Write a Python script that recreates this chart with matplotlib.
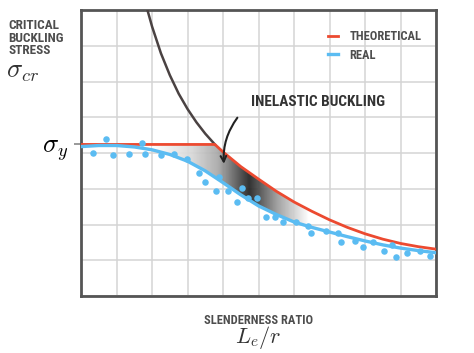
import matplotlib.pyplot as plt
import numpy as np
from matplotlib.colors import LinearSegmentedColormap
from matplotlib.patches import Polygon

plt.rcParams['mathtext.fontset'] = 'cm'
cond = ['Liberation Sans Narrow', 'Roboto Condensed', 'Roboto', 'DejaVu Sans']

# yield stress level
sigma_y = 4.24

# theoretical curve (flat plateau, then elastic branch)
x_theo = [0, 3.77, 4.0, 4.5, 5.0, 5.5, 6.0, 6.5, 7.0, 7.5, 8.0, 8.5, 9.0, 9.5, 10.0]
y_theo = [4.24, 4.24, 4.03, 3.62, 3.27, 2.93, 2.63, 2.37, 2.13, 1.92, 1.74, 1.59, 1.47, 1.38, 1.31]

# real (measured) trend
x_real = [0, 0.5, 1.0, 1.5, 2.0, 2.5, 3.0, 3.5, 4.0, 4.5, 5.0, 5.5, 6.0, 6.5, 7.0, 7.5, 8.0, 8.5, 9.0, 9.5, 10.0]
y_real = [4.18, 4.21, 4.21, 4.17, 4.09, 3.96, 3.77, 3.50, 3.17, 2.83, 2.52, 2.28, 2.07, 1.92, 1.79, 1.66, 1.54, 1.43, 1.34, 1.27, 1.21]

# euler branch above the plateau
x_euler = [1.87, 2.0, 2.25, 2.5, 2.75, 3.0, 3.25, 3.5, 3.77]
y_euler = [8.0, 7.54, 6.79, 6.18, 5.66, 5.23, 4.86, 4.54, 4.24]

# test points
pts_x = [0.33, 0.70, 0.89, 1.36, 1.73, 1.79, 2.25, 2.62, 2.98, 3.32, 3.48, 3.80, 3.89, 4.13, 4.38,
         4.53, 4.71, 4.95, 5.20, 5.45, 5.68, 6.05, 6.39, 6.49, 6.89, 7.25, 7.32, 7.73, 7.95, 8.21,
         8.54, 8.77, 8.86, 9.17, 9.55, 9.82]
pts_y = [4.00, 4.40, 3.94, 3.98, 4.29, 3.97, 3.94, 3.97, 3.84, 3.45, 3.18, 2.93, 3.32, 2.94, 2.64,
         3.01, 2.73, 2.74, 2.22, 2.22, 2.08, 2.08, 1.96, 1.75, 1.82, 1.77, 1.50, 1.55, 1.38, 1.50,
         1.26, 1.44, 1.10, 1.19, 1.27, 1.11]

red = '#ec4a30'
blue = '#5bbcf2'
txt = '#4d4d4d'

fig = plt.figure(figsize=(4.74, 3.53), dpi=100)
ax = fig.add_axes([0.171, 0.1615, 0.749, 0.81])
ax.set_xlim(0, 10)
ax.set_ylim(0, 8)

ax.set_xticks(np.arange(0, 11), minor=True)
ax.set_yticks(np.arange(0, 9), minor=True)
ax.grid(which='minor', color='#d4d4d4', lw=1.1)
ax.tick_params(which='minor', length=0)
ax.set_xticks([])
ax.set_yticks([sigma_y])
ax.set_yticklabels([r'$\sigma_y$'], fontsize=19)
ax.tick_params(axis='y', which='major', length=5, width=1.2, color='#888888', pad=4)
for s in ax.spines.values():
    s.set_color('#555555')
    s.set_linewidth(2)

# gradient band between theory and real
cmap = LinearSegmentedColormap.from_list('band', [
    (0.0, '#ffffff'), (0.25, '#d8d8d8'), (0.42, '#a8a8a8'),
    (0.62, '#202020'), (0.8, '#9a9a9a'), (1.0, '#ffffff')])
grad = np.linspace(0, 1, 256).reshape(1, -1)
im = ax.imshow(grad, cmap=cmap, extent=[2.0, 6.4, 0, 8], aspect='auto', zorder=2, alpha=0.92)
band = Polygon(list(zip(x_theo, y_theo)) + list(zip(x_real, y_real))[::-1],
               closed=True, transform=ax.transData, fc='none', ec='none')
ax.add_patch(band)
im.set_clip_path(band)

ax.plot(x_euler, y_euler, color='#4a4242', lw=1.8, zorder=3)
ax.plot(x_theo, y_theo, color=red, lw=2, zorder=4, label='THEORETICAL')
ax.plot(x_real, y_real, color=blue, lw=2.4, zorder=4, label='REAL')
ax.scatter(pts_x, pts_y, s=22, color=blue, zorder=5, lw=0)

ax.annotate('', xy=(4.03, 3.62), xytext=(4.45, 5.05),
            arrowprops=dict(arrowstyle='->', color='#222222', lw=1.5,
                            connectionstyle='arc3,rad=0.2'), zorder=6)
ax.text(4.8, 5.43, 'INELASTIC BUCKLING', family=cond, fontsize=11, weight='bold',
        color='#333333', va='center', ha='left')

leg = ax.legend(loc='upper right', bbox_to_anchor=(0.99, 0.97), frameon=False,
                handlelength=0.8, handletextpad=0.9, labelspacing=0.45,
                prop=dict(family=cond, size=9, weight='bold'))
for t in leg.get_texts():
    t.set_color(txt)

fig.text(0.017, 0.945, 'CRITICAL\nBUCKLING\nSTRESS', family=cond, fontsize=9.5, weight='bold',
         color=txt, va='top', ha='left', linespacing=0.95)
fig.text(0.012, 0.80, r'$\sigma_{cr}$', fontsize=19, va='center', ha='left', color='#333333')
fig.text(0.545, 0.093, 'SLENDERNESS RATIO', family=cond, fontsize=9, weight='bold',
         color=txt, ha='center', va='center')
fig.text(0.545, 0.043, r'$L_e/r$', fontsize=16, ha='center', va='center', color='#333333')

fig.savefig('out.png', dpi=100)
